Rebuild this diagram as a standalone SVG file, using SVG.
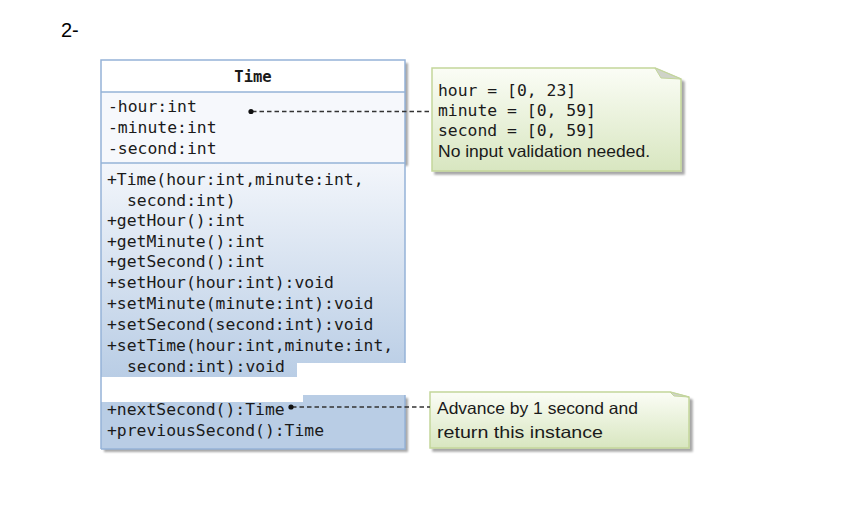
<svg xmlns="http://www.w3.org/2000/svg" width="856" height="513" viewBox="0 0 856 513">
<defs>
<linearGradient id="gMeth" x1="0" y1="0" x2="0" y2="1">
<stop offset="0" stop-color="#f3f6fb"/>
<stop offset="1" stop-color="#b9cde5"/>
</linearGradient>
<linearGradient id="gNote" x1="0" y1="0" x2="0" y2="1">
<stop offset="0" stop-color="#fbfdf6"/>
<stop offset="1" stop-color="#d8e6c0"/>
</linearGradient>
<filter id="sh" x="-5%" y="-5%" width="115%" height="115%">
<feGaussianBlur in="SourceAlpha" stdDeviation="1"/>
<feOffset dx="2.5" dy="2.5"/>
<feComponentTransfer><feFuncA type="linear" slope="0.35"/></feComponentTransfer>
<feMerge><feMergeNode/><feMergeNode in="SourceGraphic"/></feMerge>
</filter>
</defs>
<style>
.mono{font-family:"DejaVu Sans Mono","Liberation Mono",monospace;font-size:16.4px;fill:#1a1a1a}
.sans{font-family:"Liberation Sans","Open Sans",sans-serif;font-size:16.5px;fill:#1a1a1a}
.bd{fill:none;stroke:#95b3d7;stroke-width:1.5}
.note{fill:url(#gNote);stroke:#c3d69b;stroke-width:1.5}
.fold{fill:#cfd3c8;stroke:#c3d69b;stroke-width:1}
.conn{stroke:#333;stroke-width:1.3;stroke-dasharray:4.5 3;fill:none}
</style>
<rect width="856" height="513" fill="#ffffff"/>
<text x="61" y="37" style="font-family:'Liberation Sans',sans-serif;font-size:20px;fill:#000">2-</text>

<g id="class-time">
<rect x="101" y="60" width="304" height="103" fill="#ffffff" filter="url(#sh)"/>
<rect x="101" y="92" width="304" height="71" fill="#f6f8fc"/>
<path d="M101,163 H405 V363 H297 V377 H101 Z" fill="url(#gMeth)"/>
<path d="M101,402 H303 V395 H405 V449 H101 Z" fill="#b9cde5" filter="url(#sh)"/>
<path class="bd" d="M101,449 V60 H405 V363"/>
<path class="bd" d="M405,395 V449 H101"/>
<line class="bd" x1="101" y1="92" x2="405" y2="92"/>
<line class="bd" x1="101" y1="163" x2="405" y2="163"/>
<text x="253" y="82" text-anchor="middle" class="mono" style="font-weight:bold;font-size:15.5px">Time</text>
<text class="mono" x="108" y="112">-hour:int</text>
<text class="mono" x="108" y="133">-minute:int</text>
<text class="mono" x="108" y="154">-second:int</text>
<text class="mono" x="107" y="185">+Time(hour:int,minute:int,</text>
<text class="mono" x="127" y="205.5">second:int)</text>
<text class="mono" x="107" y="226">+getHour():int</text>
<text class="mono" x="107" y="246.5">+getMinute():int</text>
<text class="mono" x="107" y="267">+getSecond():int</text>
<text class="mono" x="107" y="288">+setHour(hour:int):void</text>
<text class="mono" x="107" y="309">+setMinute(minute:int):void</text>
<text class="mono" x="107" y="330">+setSecond(second:int):void</text>
<text class="mono" x="107" y="351">+setTime(hour:int,minute:int,</text>
<text class="mono" x="127" y="371.5">second:int):void</text>
<text class="mono" x="107" y="415">+nextSecond():Time</text>
<text class="mono" x="107" y="436">+previousSecond():Time</text>
</g>

<g id="note-ranges">
<path class="note" d="M432,68 H655 L681,79 V171 H432 Z" filter="url(#sh)"/>
<path class="fold" d="M655,68 L681,79 L661,78 Z"/>
<text class="mono" x="438" y="96">hour = [0, 23]</text>
<text class="mono" x="438" y="116">minute = [0, 59]</text>
<text class="mono" x="438" y="136">second = [0, 59]</text>
<text class="sans" x="438" y="157" textLength="212" lengthAdjust="spacingAndGlyphs">No input validation needed.</text>
</g>

<g id="note-next">
<path class="note" d="M430,392 H670 L689,397 V448 H430 Z" filter="url(#sh)"/>
<path class="fold" d="M670,392 L689,397 L674,396 Z"/>
<text class="sans" x="437" y="414" textLength="201" lengthAdjust="spacingAndGlyphs">Advance by 1 second and</text>
<text class="sans" x="437" y="438" textLength="166" lengthAdjust="spacingAndGlyphs">return this instance</text>
</g>

<g id="connectors">
<line class="conn" x1="252" y1="111.5" x2="432" y2="111.5"/>
<circle cx="251" cy="111.5" r="2.6" fill="#111"/>
<line class="conn" x1="292" y1="407" x2="430" y2="407"/>
<circle cx="291" cy="407" r="2.6" fill="#111"/>
</g>
</svg>
